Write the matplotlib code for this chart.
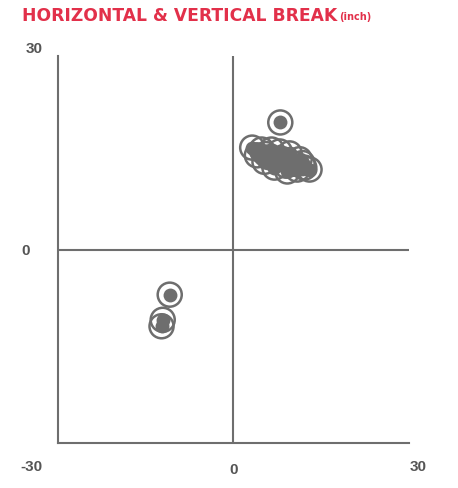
import matplotlib.pyplot as plt

# horizontal / vertical break values (inch)
horz = [8.0, 3.2, 4.8, 6.5, 7.9, 9.6, 11.3, 6.2, 8.4, 10.4, 12.1, 13.0, 10.9, 5.5, 9.0,
        7.0, 9.2, 5.3, 11.8, 4.0,
        -10.9, -12.1, -12.3]
vert = [19.7, 15.8, 15.5, 15.5, 15.2, 14.9, 14.0, 14.3, 14.0, 13.3, 12.7, 12.4, 12.4, 14.8, 13.0,
        12.7, 12.1, 13.6, 13.4, 14.6,
        -7.0, -10.9, -11.9]

axis_min, axis_max = -30, 30
gray = '#6e6e6e'
label_gray = '#555555'
title_red = '#e2304a'


def main():
    fig = plt.figure(figsize=(4.58, 4.89), dpi=100)
    ax = fig.add_axes([0.1266, 0.092, 0.7664, 0.7914])

    # Outer rings then inner dots
    ax.scatter(horz, vert, s=300, facecolors='none', edgecolors=gray, linewidths=1.8, zorder=3)
    ax.scatter(horz, vert, s=100, color=gray, linewidths=0, zorder=4)

    ax.set_xlim(axis_min, axis_max)
    ax.set_ylim(axis_min, axis_max)

    # Quadrant lines
    ax.axhline(0, color=gray, linewidth=1.5, zorder=1)
    ax.axvline(0, color=gray, linewidth=1.5, zorder=1)

    for spine in ['top', 'right']:
        ax.spines[spine].set_visible(False)
    for spine in ['bottom', 'left']:
        ax.spines[spine].set_color(gray)
        ax.spines[spine].set_linewidth(1.5)
    ax.set_xticks([])
    ax.set_yticks([])

    # Axis labels placed loosely like the original
    lab = dict(color=label_gray, fontsize=11, fontweight='bold', family='Liberation Sans')
    ax.text(-34, 31.2, '30', ha='center', va='center', **lab)
    ax.text(-35.5, 0, '0', ha='center', va='center', **lab)
    ax.text(-34.5, -33.5, '-30', ha='center', va='center', **lab)
    ax.text(0, -34, '0', ha='center', va='center', **lab)
    ax.text(31.5, -33.5, '30', ha='center', va='center', **lab)

    # Title
    fig.text(0.048, 0.968, 'HORIZONTAL & VERTICAL BREAK', color=title_red, fontsize=12.3,
             fontweight='bold', family='DejaVu Sans', ha='left', va='center')
    fig.text(0.741, 0.966, '(inch)', color=title_red, fontsize=7,
             fontweight='bold', family='DejaVu Sans', ha='left', va='center')

    fig.savefig('out.png', dpi=100)


if __name__ == "__main__":
    main()
